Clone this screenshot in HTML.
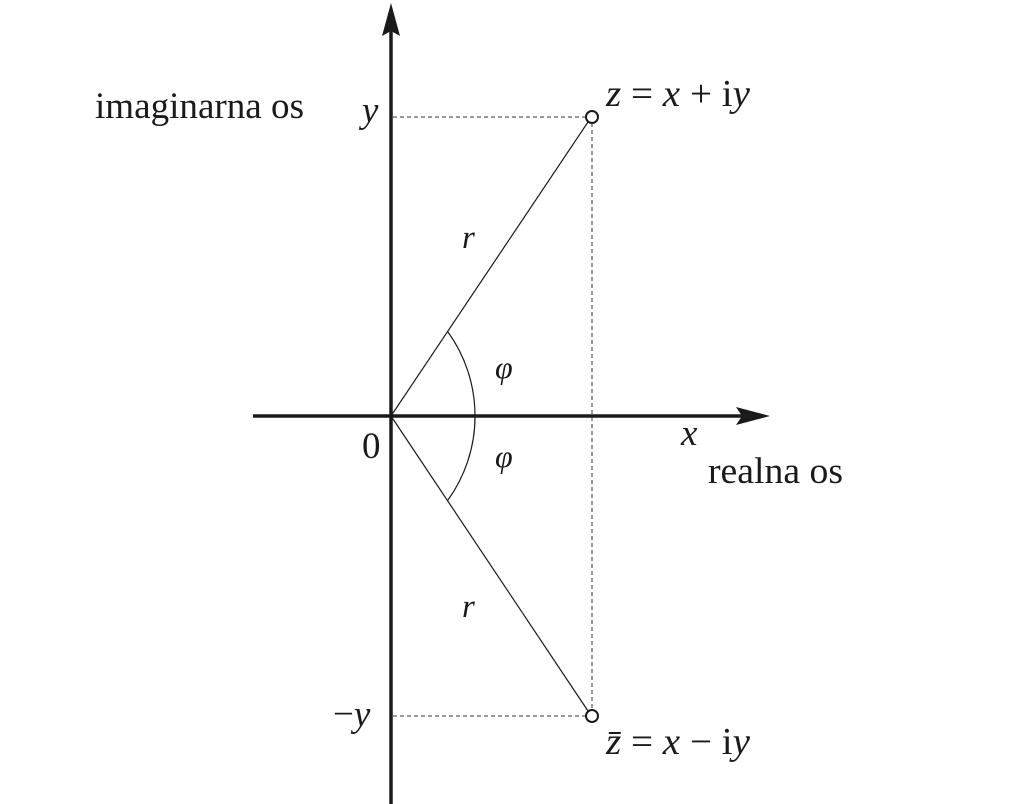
<!DOCTYPE html>
<html><head><meta charset="utf-8"><style>
html,body{margin:0;padding:0;background:#fff;}
svg{display:block;}
text{font-family:"Liberation Serif",serif;fill:#1a1a1a;}
.i{font-style:italic;}
</style></head><body>
<svg width="1017" height="804" viewBox="0 0 1017 804" xmlns="http://www.w3.org/2000/svg">
<line x1="391" y1="30" x2="391" y2="804" stroke="#1a1a1a" stroke-width="3.5"/>
<polygon points="391,3 382,36 391,31 400,36" fill="#1a1a1a"/>
<line x1="253" y1="416" x2="745" y2="416" stroke="#1a1a1a" stroke-width="3.5"/>
<polygon points="770,416 736,407 742,416 736,425" fill="#1a1a1a"/>
<g stroke="#333" stroke-width="1" stroke-dasharray="4,3" fill="none">
<line x1="393" y1="117" x2="586" y2="117"/>
<line x1="393" y1="716" x2="586" y2="716"/>
<line x1="592" y1="123" x2="592" y2="710"/>
</g>
<line x1="391" y1="416" x2="588" y2="122" stroke="#1a1a1a" stroke-width="1.2"/>
<line x1="391" y1="416" x2="588" y2="711" stroke="#1a1a1a" stroke-width="1.2"/>
<path d="M448,332 A144,144 0 0 1 448,500" fill="none" stroke="#1a1a1a" stroke-width="1.2"/>
<circle cx="592" cy="117" r="6" fill="#fff" stroke="#1a1a1a" stroke-width="2"/>
<circle cx="592" cy="716" r="6" fill="#fff" stroke="#1a1a1a" stroke-width="2"/>
<text x="95" y="118" font-size="37" textLength="209" lengthAdjust="spacingAndGlyphs">imaginarna os</text>
<text x="708" y="483" font-size="37" textLength="135" lengthAdjust="spacingAndGlyphs">realna os</text>
<text x="362" y="458" font-size="37">0</text>
<text class="i" x="362" y="122" font-size="37">y</text>
<text x="333" y="726" font-size="37">−<tspan class="i">y</tspan></text>
<text class="i" x="681" y="445" font-size="37">x</text>
<text class="i" x="462" y="248" font-size="33">r</text>
<text class="i" x="462" y="617" font-size="33">r</text>
<text class="i" x="495" y="378" font-size="32">φ</text>
<text class="i" x="495" y="467" font-size="32">φ</text>
<text x="606" y="106" font-size="38" textLength="144" lengthAdjust="spacingAndGlyphs"><tspan class="i">z</tspan> = <tspan class="i">x</tspan> + i<tspan class="i">y</tspan></text>
<text x="606" y="754" font-size="38" textLength="144" lengthAdjust="spacingAndGlyphs"><tspan class="i">z̄</tspan> = <tspan class="i">x</tspan> − i<tspan class="i">y</tspan></text>
</svg>
</body></html>
